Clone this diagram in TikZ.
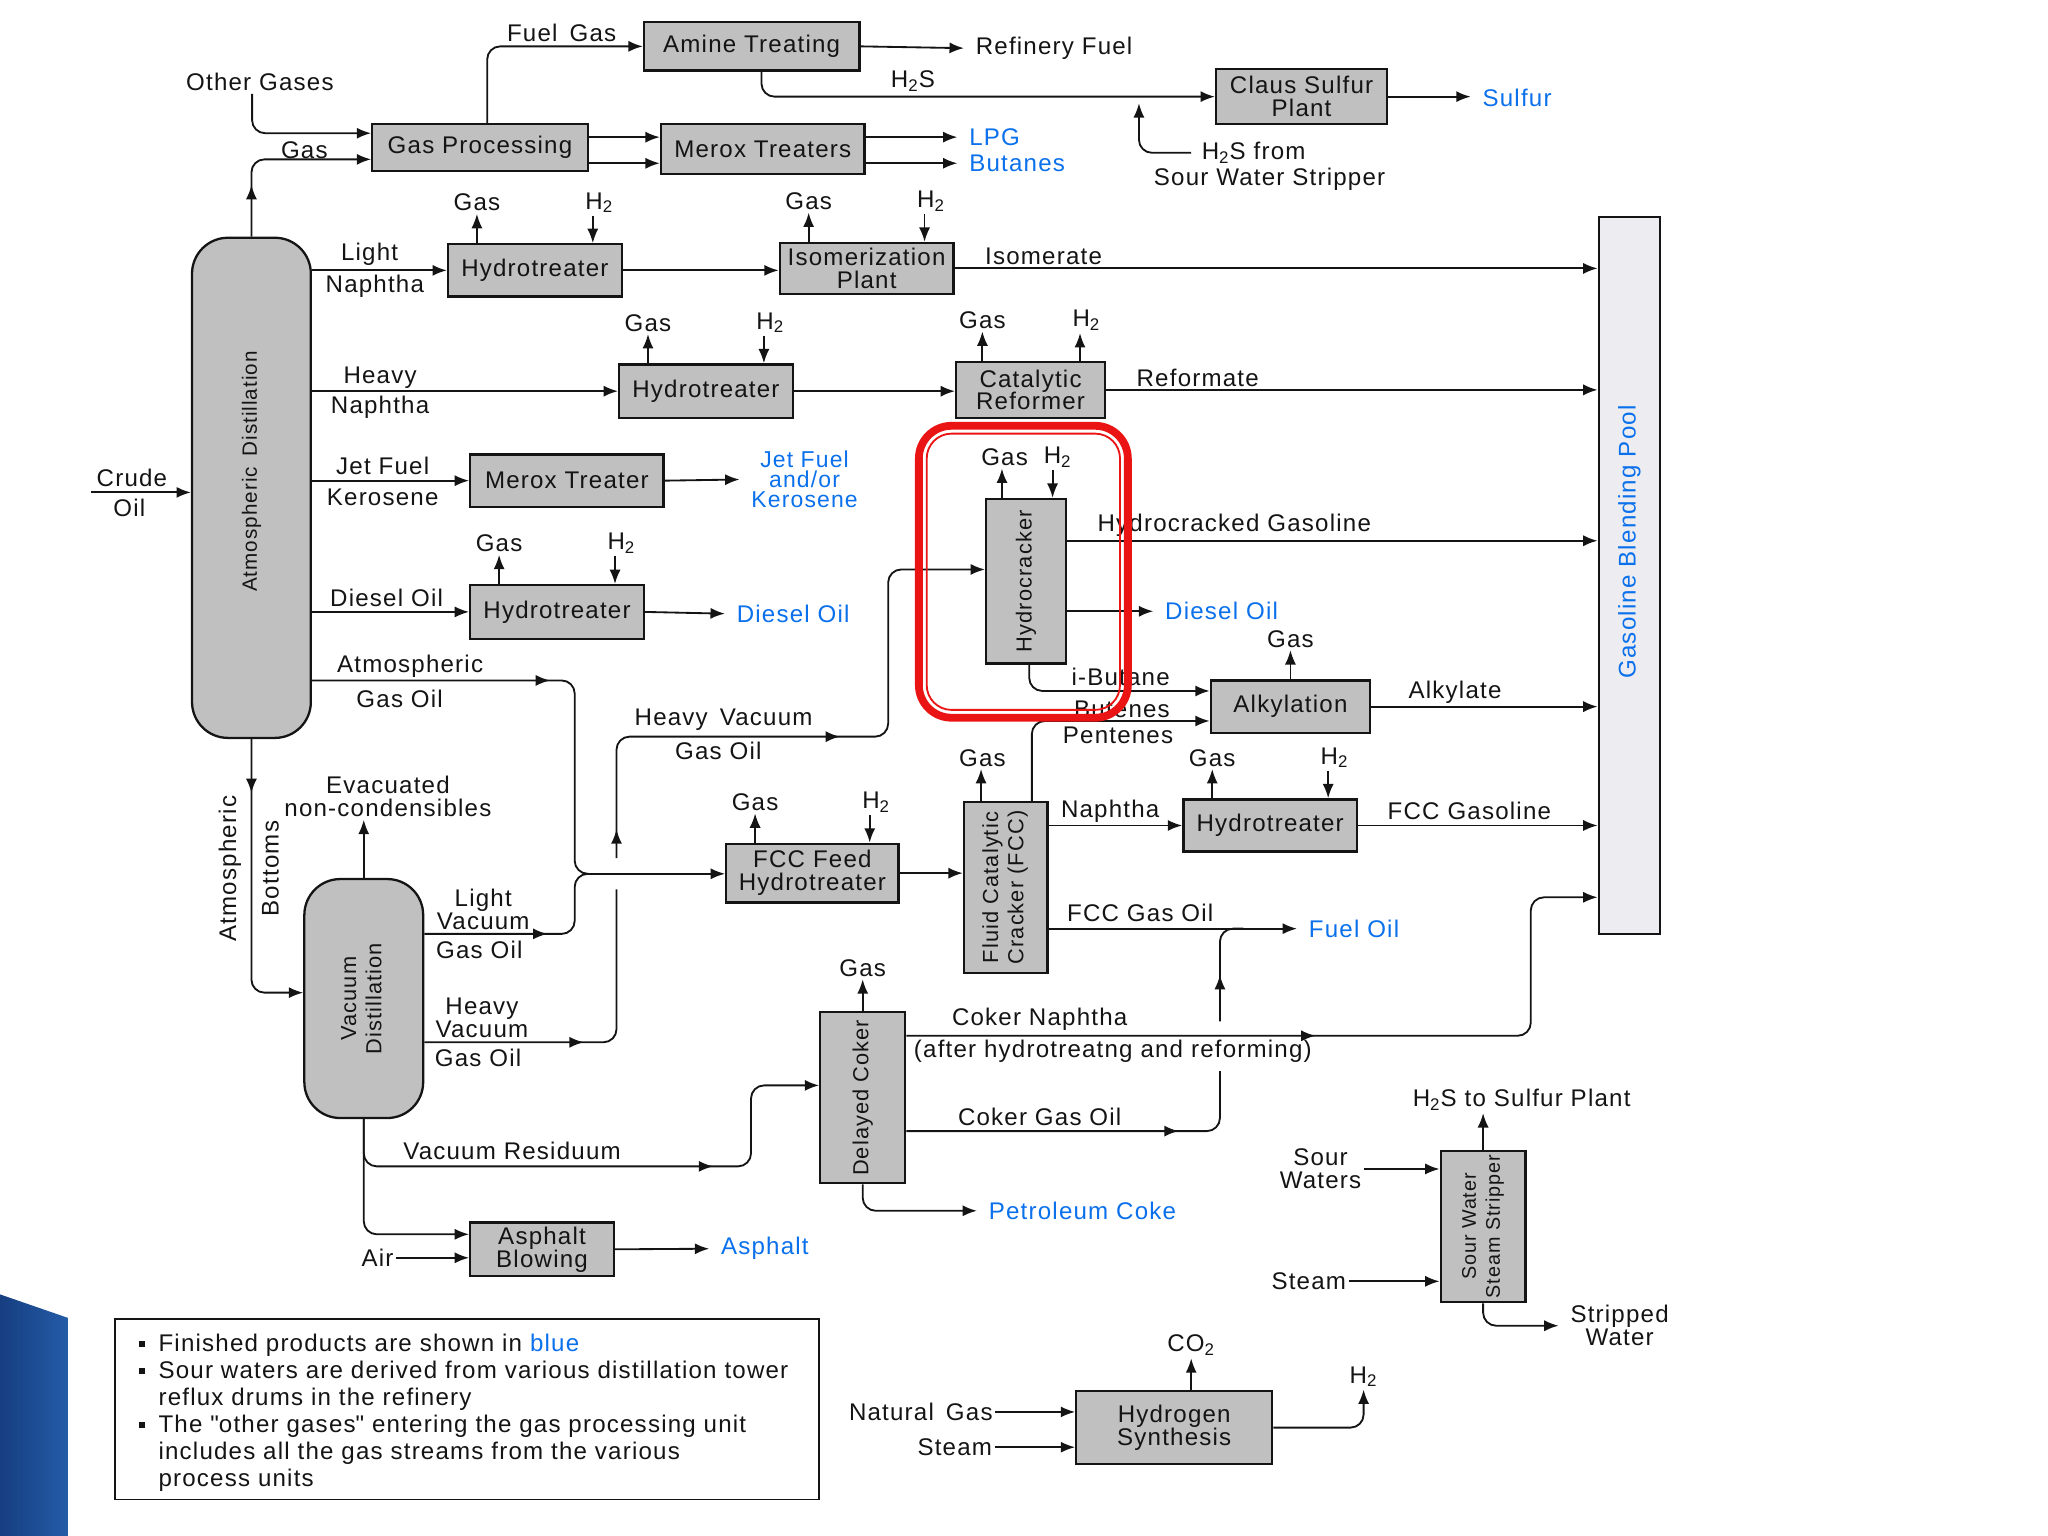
\documentclass[tikz,border=0pt]{standalone}
\usepackage{fontspec}
\setmainfont[LetterSpace=5]{Liberation Sans}
\newfontfamily\rawfont[LetterSpace=5]{Liberation Sans}
\usepackage{graphicx}
\definecolor{rfGray} {RGB}{192,192,192}
\definecolor{rfPool} {RGB}{236,236,241}
\definecolor{rfBlue} {RGB}{ 10,112,235}
\definecolor{rfInk}  {RGB}{ 20, 20, 20}
\definecolor{rfRed}  {RGB}{235, 20, 20}
\definecolor{rfNavy} {RGB}{ 36, 92,168}
\definecolor{rfDeep} {RGB}{ 22, 62,128}
\usetikzlibrary{
  arrows.meta,
  positioning,
  decorations.markings,
}

\begin{document}
\begin{tikzpicture}[
  x=0.02cm, y=-0.02cm,
  >={Latex[length=2.2mm,width=1.7mm]},
  every node/.style={font=\fontsize{10.5}{10}\selectfont, text=rfInk},
  unit/.style={draw=rfInk, line width=1pt, fill=rfGray,
               inner sep=0pt, align=center},
  tower/.style={unit, rounded corners=0.55cm},
  vtext/.style={font=\fontsize{9.5}{11}\selectfont},
  tag/.style={inner sep=1pt, align=center},
  prod/.style={tag, text=rfBlue},
  pipe/.style={line width=0.8pt, draw=rfInk, rounded corners=0.2cm},
  flow/.style={pipe, ->},
  toprod/.style={flow, shorten >=4pt},
  midtip/.style={postaction={decorate},
                 decoration={markings, mark=at position #1 with {\arrow{>}}}},
]
  \useasboundingbox (0,0) rectangle (1568,1176);

  % slide corner in the lower left
  \shade[left color=rfDeep, right color=rfNavy]
    (0,991) -- (52,1009) -- (52,1176) -- (0,1176) -- cycle;

  % Distillation towers
  \node[tower, font=\fontsize{9}{11}\selectfont, minimum width=1.82cm, minimum height=7.66cm] (atm) at (192.5,373.5)
    {\rotatebox{90}{\hspace{0.5cm}Atmospheric\enspace Distillation}};
  \node[tower, vtext, minimum width=1.82cm, minimum height=3.66cm] (vac) at (278.5,764.5)
    {\rotatebox{90}{\begin{tabular}{@{}c@{}}Vacuum\\Distillation\end{tabular}}};

  % Process units
  \node[unit, minimum width=3.3cm,  minimum height=0.74cm] (amine) at (575.5,35.5)  {Amine Treating};
  \node[unit, minimum width=3.3cm,  minimum height=0.72cm] (gp)    at (367.5,113)   {Gas Processing};
  \node[unit, minimum width=3.12cm, minimum height=0.76cm] (mxs)   at (584,114)     {Merox Treaters};
  \node[unit, minimum width=2.62cm, minimum height=0.84cm] (claus) at (996.5,74)    {Claus Sulfur\\Plant};
  \node[unit, minimum width=2.66cm, minimum height=0.8cm]  (ht1)   at (409.5,207)   {Hydrotreater};
  \node[unit, minimum width=2.66cm, minimum height=0.78cm] (isom)  at (663.5,205.5) {Isomerization\\Plant};
  \node[unit, minimum width=2.66cm, minimum height=0.82cm] (ht2)   at (540.5,299.5) {Hydrotreater};
  \node[unit, minimum width=2.28cm, minimum height=0.86cm] (cr)    at (789,298.5)   {Catalytic\\Reformer};
  \node[unit, minimum width=2.96cm, minimum height=0.8cm]  (mx)    at (434,368)     {Merox Treater};
  \node[unit, minimum width=2.66cm, minimum height=0.82cm] (ht3)   at (426.5,468.5) {Hydrotreater};
  \node[unit, vtext, minimum width=1.22cm, minimum height=2.52cm] (hc) at (785.5,445)
    {\rotatebox{90}{Hydrocracker}};
  \node[unit, minimum width=2.44cm, minimum height=0.8cm]  (alk)   at (988,541)     {Alkylation};
  \node[unit, minimum width=2.64cm, minimum height=0.9cm]  (ffh)   at (622,668.5)   {FCC Feed\\Hydrotreater};
  \node[unit, vtext, minimum width=1.28cm, minimum height=2.62cm] (fcc) at (770,679.5)
    {\rotatebox{90}{\begin{tabular}{@{}c@{}}Fluid Catalytic\\Cracker (FCC)\end{tabular}}};
  \node[unit, minimum width=2.66cm, minimum height=0.8cm]  (ht4)   at (972.5,632)   {Hydrotreater};
  \node[unit, vtext, minimum width=1.3cm, minimum height=2.62cm] (dc) at (660.5,840.5)
    {\rotatebox{90}{Delayed Coker}};
  \node[unit, minimum width=2.2cm,  minimum height=0.82cm] (asph)  at (415,956.5)   {Asphalt\\Blowing};
  \node[unit, font=\fontsize{8.6}{10.5}\selectfont, minimum width=1.3cm, minimum height=2.32cm] (sws) at (1135.5,939)
    {\rotatebox{90}{\begin{tabular}{@{}c@{}}Sour Water\\Steam Stripper\end{tabular}}};
  \node[unit, minimum width=3cm,    minimum height=1.12cm] (hs)    at (899,1093)    {Hydrogen\\Synthesis};
  \node[unit, fill=rfPool, minimum width=0.94cm, minimum height=10.98cm] (gbp) at (1247.5,440.5) {};
  \node[prod, rotate=90] (gbptext) at (1247.5,415) {Gasoline Blending Pool};

  % Gas off / H2 in on the hydrotreaters and isomerization
  \foreach \u in {ht1,isom,ht2,ht3,ffh,ht4}{
    \node[tag] (\u-gas) at ([xshift=0.46cm,yshift=0.62cm]\u.north west) {Gas};
    \node[tag] (\u-h2)  at ([xshift=-0.36cm,yshift=0.62cm]\u.north east) {H\textsubscript{2}};
    \draw[flow] (\u-gas.south |- \u.north) -- (\u-gas.south);
    \draw[flow] ([xshift=-0.1cm]\u-h2.south) -- ([xshift=-0.1cm]\u-h2.south |- \u.north);
  }
  \node[tag] (cr-gas) at ([xshift=0.42cm,yshift=0.62cm]cr.north west) {Gas};
  \node[tag] (cr-h2)  at ([xshift=-0.3cm,yshift=0.62cm]cr.north east) {H\textsubscript{2}};
  \draw[flow] (cr-gas.south |- cr.north) -- (cr-gas.south);
  \draw[flow] ([xshift=-0.1cm]cr-h2.south |- cr.north) -- ([xshift=-0.1cm]cr-h2.south);
  \node[tag] (hc-gas) at ([xshift=0.3cm,yshift=0.62cm]hc.north west) {Gas};
  \node[tag] (hc-h2)  at ([xshift=-0.14cm,yshift=0.62cm]hc.north east) {H\textsubscript{2}};
  \draw[flow] ([xshift=-0.04cm]hc-gas.south |- hc.north) -- ([xshift=-0.04cm]hc-gas.south);
  \draw[flow] ([xshift=-0.08cm]hc-h2.south) -- ([xshift=-0.08cm]hc-h2.south |- hc.north);
  \node[tag] (alk-gas) at ([yshift=0.62cm]alk.north) {Gas};
  \draw[flow] (alk.north) -- (alk-gas.south);
  \node[tag] (fcc-gas) at ([xshift=0.3cm,yshift=0.66cm]fcc.north west) {Gas};
  \draw[flow] ([xshift=-0.02cm]fcc-gas.south |- fcc.north) -- ([xshift=-0.02cm]fcc-gas.south);
  \node[tag] (dc-gas) at ([yshift=0.66cm]dc.north) {Gas};
  \draw[flow] (dc.north) -- (dc-gas.south);

  % Stream labels
  \node[tag] (fuelgas)  at (430,25)  {Fuel\enspace Gas};
  \node[tag, anchor=west] (reffuel) at (745,37) {Refinery Fuel};
  \node[tag] (h2s)      at (699,62)  {H\textsubscript{2}S};
  \node[tag] (othergas) at (199,63)  {Other Gases};
  \node[tag] (gasgp)    at (233,115) {Gas};
  \node[prod, anchor=west] (lpg)     at (740,105)  {LPG};
  \node[prod, anchor=west] (butanes) at (740,125)  {Butanes};
  \node[prod, anchor=west] (sulfur)  at (1133,75)  {Sulfur};
  \node[tag, anchor=west] (h2sfrom)  at (918,117)  {H\textsubscript{2}S from};
  \node[tag] (h2sfrom-b) at (972,137) {Sour Water Stripper};
  \node[tag] (ln-a)      at (283,195) {Light};
  \node[tag] (ln-b)      at (287,219) {Naphtha};
  \node[tag] (isomerate) at (799,196) {Isomerate};
  \node[tag] (hn-a)      at (291,289) {Heavy};
  \node[tag] (hn-b)      at (291,312) {Naphtha};
  \node[tag] (reformate) at (917,289) {Reformate};
  \node[tag] (crude-a)   at (101,366) {Crude};
  \node[tag] (crude-b)   at (99,389)  {Oil};
  \node[tag] (jet-a)     at (293,357) {Jet Fuel};
  \node[tag] (jet-b)     at (293,381) {Kerosene};
  \node[prod, font=\fontsize{10}{8.6}\selectfont] (jetprod) at (616,367) {Jet Fuel\\and/or\\Kerosene};
  \node[tag] (dsl)       at (296,458) {Diesel Oil};
  \node[prod, anchor=west] (dslprod) at (562,470) {Diesel Oil};
  \node[tag] (ago-a)     at (314,510) {Atmospheric};
  \node[tag] (ago-b)     at (306,535) {Gas Oil};
  \node[tag] (hcgaso)    at (945,402) {Hydrocracked Gasoline};
  \node[prod, anchor=west] (hcdsl) at (890,468) {Diesel Oil};
  \node[tag] (ibutane)   at (858,518) {i-Butane};
  \node[tag] (butenes)   at (859,543) {Butenes};
  \node[tag] (pentenes)  at (856,563) {Pentenes};
  \node[tag] (alkylate)  at (1114,530) {Alkylate};
  \node[tag] (hvgo-a)    at (554,551) {Heavy\enspace Vacuum};
  \node[tag] (hvgo-b)    at (550,575) {Gas Oil};
  \node[tag] (evac)      at (297,610) {Evacuated\\non-condensibles};
  \node[tag, rotate=90] (atb-a) at (176,665) {Atmospheric};
  \node[tag, rotate=90] (atb-b) at (207,665) {Bottoms};
  \node[tag] (fccnap)    at (850,621) {Naphtha};
  \node[tag] (fccgaso)   at (1125,621) {FCC Gasoline};
  \node[tag] (lvgo-a)    at (370,696) {Light\\Vacuum};
  \node[tag] (lvgo-b)    at (367,727) {Gas Oil};
  \node[tag] (fccgo)     at (873,699) {FCC Gas Oil};
  \node[prod, anchor=west] (fueloil) at (1000,711) {Fuel Oil};
  \node[tag] (vhvgo-a)   at (369,779) {Heavy\\Vacuum};
  \node[tag] (vhvgo-b)   at (366,810) {Gas Oil};
  \node[tag] (cknap)     at (796,780) {Coker Naphtha};
  \node[tag] (cknote)    at (852,805) {(after hydrotreatng and reforming)};
  \node[tag] (h2ssp)     at (1165,842) {H\textsubscript{2}S to Sulfur Plant};
  \node[tag] (ckgo)      at (796,855) {Coker Gas Oil};
  \node[tag] (vresid)    at (392,881) {Vacuum Residuum};
  \node[tag] (sourw)     at (1011,895) {Sour\\Waters};
  \node[prod, anchor=west] (petcoke) at (755,927) {Petroleum Coke};
  \node[tag] (air)       at (289,963) {Air};
  \node[prod, anchor=west] (asphprod) at (550,956) {Asphalt};
  \node[tag] (swsteam)   at (1002,981) {Steam};
  \node[tag] (stripped)  at (1240,1015) {Stripped\\Water};
  \node[tag] (co2)       at (912,1030) {CO\textsubscript{2}};
  \node[tag] (hsh2)      at (1044,1054) {H\textsubscript{2}};
  \node[tag] (natgas)    at (705,1081) {Natural\enspace Gas};
  \node[tag] (hssteam)   at (731,1108) {Steam};

  % bends and free ends
  \coordinate (crude-in) at (70,377);
  \coordinate (h2sjoin)  at (872,79);
  \coordinate (merge)    at (450,669);
  \coordinate (hvup)     at (472,681);
  \coordinate (hvlow)    at (472,657);
  \coordinate (hvbend)   at (680,564);
  \coordinate (vrbend)   at (575,893);
  \coordinate (cgolow)   at (934,820);
  \coordinate (cgohigh)  at (934,782);
  \coordinate (fueljoin) at (952,711);
  \coordinate (cnrise)   at (1172,687);

  % Gas plant and sulfur
  \draw[flow] ([xshift=0.11cm]gp.north) |- (amine.west);
  \draw[toprod] (amine.east) -- (reffuel.west);
  \draw[flow] ([xshift=0.15cm]amine.south) |- (claus.west);
  \draw[flow] ([xshift=-0.12cm]h2sfrom.west) -| (h2sjoin);
  \draw[toprod] (claus.east) -- (claus.east -| sulfur.west);
  \draw[flow] ([xshift=-0.12cm]othergas.south) |- ([yshift=0.22cm]gp.west);
  \draw[flow, midtip=0.27] (atm.north) |- ([yshift=-0.18cm]gp.west);
  \draw[flow] (gp.east |- lpg.west) -- (mxs.west |- lpg.west);
  \draw[flow] (gp.east |- butanes.west) -- (mxs.west |- butanes.west);
  \draw[toprod] (mxs.east |- lpg.west) -- (lpg.west);
  \draw[toprod] (mxs.east |- butanes.west) -- (butanes.west);

  % Side draws of the atmospheric tower
  \draw[flow] (crude-in) -- (crude-in -| atm.west);
  \draw[flow] (atm.east |- ht1.west) -- (ht1.west);
  \draw[flow] (ht1.east) -- (ht1.east -| isom.west);
  \draw[flow] (isom.east) -- (isom.east -| gbp.west);
  \draw[flow] (atm.east |- ht2.west) -- (ht2.west);
  \draw[flow] (ht2.east) -- (ht2.east -| cr.west);
  \draw[flow] (cr.east) -- (cr.east -| gbp.west);
  \draw[flow] (atm.east |- mx.west) -- (mx.west);
  \draw[toprod] (mx.east) -- (jetprod.west);
  \draw[flow] (atm.east |- ht3.west) -- (ht3.west);
  \draw[toprod] (ht3.east) -- (dslprod.west);

  % Gas oils to the FCC feed hydrotreater
  \draw[pipe, midtip=0.52] ([yshift=-2.95cm]atm.east) -| ([xshift=-0.2cm]merge) -- (merge);
  \draw[pipe, midtip=0.58] ([yshift=0.99cm]vac.east) -| ([xshift=-0.2cm]merge) -- (merge);
  \draw[flow] (merge) -- (merge -| ffh.west);
  \draw[pipe, midtip=0.47] ([yshift=-0.67cm]vac.east) -| (hvup);
  \draw[flow, postaction={decorate},
        decoration={markings, mark=at position 0.045 with {\arrow{>}},
                    mark=at position 0.53 with {\arrow{>}}}]
    (hvlow) |- (hvbend) |- ([yshift=0.18cm]hc.west);

  % Vacuum tower
  \draw[flow, midtip=0.18] (atm.south) |- ([yshift=0.09cm]vac.west);
  \draw[flow] (vac.north) -- (vac.north |- evac.south);
  \draw[flow, midtip=0.69] (vac.south) |- (vrbend) |- ([yshift=0.19cm]dc.west);
  \draw[flow] (vac.south) |- ([yshift=0.23cm]asph.west);
  \draw[flow] (air.east) -- (air.east -| asph.west);
  \draw[toprod] (asph.east) -- (asphprod.west);

  % Crackers and gasoline
  \draw[flow] (ffh.east) -- (ffh.east -| fcc.west);
  \draw[flow] ([xshift=0.4cm]fcc.north) |- ([yshift=-0.22cm]alk.west);
  \draw[flow] ([xshift=0.05cm]hc.south) |- ([yshift=0.24cm]alk.west);
  \draw[flow] (alk.east) -- (alk.east -| gbp.west);
  \draw[flow] ([yshift=0.62cm]hc.east) -- ([yshift=0.62cm]hc.east -| gbp.west);
  \draw[toprod] (hc.east |- hcdsl.west) -- (hcdsl.west);
  \draw[flow] (fcc.east |- ht4.west) -- (ht4.west);
  \draw[flow] (ht4.east) -- (ht4.east -| gbp.west);
  \draw[toprod] (fcc.east |- fueloil.west) -- (fueloil.west);

  % Coker
  \draw[pipe, midtip=0.74] ([yshift=-0.51cm]dc.east) -| (cgolow);
  \draw[pipe, midtip=0.42] (cgohigh) |- (fueljoin);
  \draw[flow, midtip=0.5] ([yshift=0.95cm]dc.east) -| (cnrise) -- (cnrise -| gbp.west);
  \draw[toprod] (dc.south) |- (petcoke.west);

  % Sour water stripper and hydrogen
  \draw[flow] (sourw.east) -- (sourw.east -| sws.west);
  \draw[flow] (swsteam.east) -- (swsteam.east -| sws.west);
  \draw[flow] (sws.north) -- (sws.north |- h2ssp.south);
  \draw[toprod] (sws.south) |- (stripped.west);
  \draw[flow] (natgas.east) -- (natgas.east -| hs.west);
  \draw[flow] (hssteam.east) -- (hssteam.east -| hs.west);
  \draw[flow] (co2.south |- hs.north) -- (co2.south);
  \draw[flow] (hs.east) -| (hsh2.south);

  % Notes
  \node[draw=rfInk, line width=0.8pt, minimum width=10.78cm, minimum height=2.76cm,
        inner sep=0pt] (notes) at (357.5,1079) {};
  \node[tag, anchor=north west, align=left, font=\fontsize{10.5}{11.8}\selectfont] (notetext)
    at ([xshift=0.34cm,yshift=-0.2cm]notes.north west)
    {\makebox[8.5pt][l]{\rule[2pt]{2.5pt}{2.5pt}}Finished products are shown in \textcolor{rfBlue}{blue}\\
     \makebox[8.5pt][l]{\rule[2pt]{2.5pt}{2.5pt}}Sour waters are derived from various distillation tower\\
     \hspace*{8.5pt}reflux drums in the refinery\\
     \makebox[8.5pt][l]{\rule[2pt]{2.5pt}{2.5pt}}The {\rawfont"}other gases{\rawfont"} entering the gas processing unit\\
     \hspace*{8.5pt}includes all the gas streams from the various\\
     \hspace*{8.5pt}process units};

  % Highlight round the hydrocracker
  \draw[rfRed, line width=3.4pt, rounded corners=0.5cm] (703.5,326) rectangle (863.5,549.5);
  \draw[rfRed, line width=0.8pt, rounded corners=0.38cm] (709.5,332) rectangle (857.5,543.5);
\end{tikzpicture}
\end{document}
